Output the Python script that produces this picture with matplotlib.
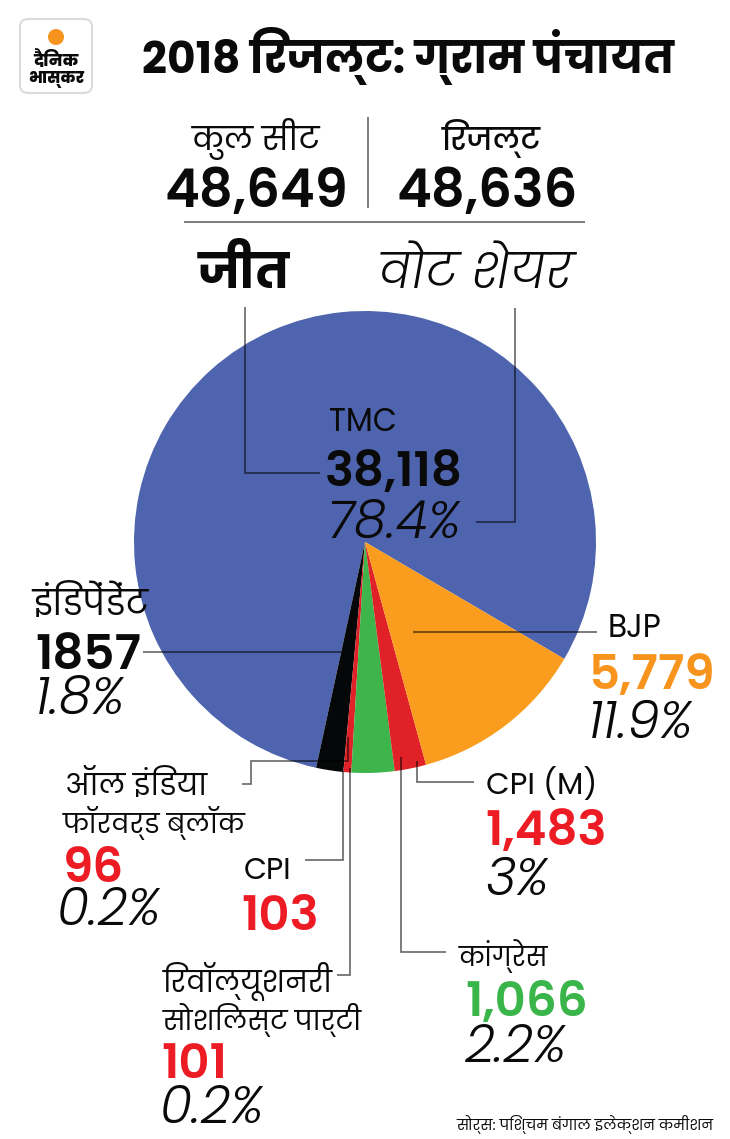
import re

import matplotlib
matplotlib.use("Agg")
import matplotlib.pyplot as plt
from matplotlib.patches import Circle, FancyBboxPatch

W, H = 730, 1139

# wedges as measured on the picture, going anticlockwise from the BJP/TMC edge
wedge_names = ["TMC", "इंडिपेंडेंट", "रिवॉल्यूशनरी", "कांग्रेस", "CPI (M)", "BJP"]
wedge_share = [80.05, 1.9, 0.55, 3.0, 2.2, 12.3]
wedge_colors = ["#4E64AE", "#060708", "#E02128", "#3DB54A", "#E02128", "#FA9C1D"]

title = "2018 रिजल्ट: ग्राम पंचायत"
total_label, total_seats = "कुल सीट", "48,649"
result_label, result_seats = "रिजल्ट", "48,636"
win_label, share_label = "जीत", "वोट शेयर"
source = "सोर्स: पश्चिम बंगाल इलेक्शन कमीशन"
logo_lines = ["दैनिक", "भास्कर"]

RED = "#ED1C24"
INK = "#0a0a0a"
LINE = "#000000"
SEATS_PT = 34.8
PCT_PT = 37.5


def visual_order(text):
    # matplotlib has no text shaping, so the i-matra has to come before its consonant cluster
    cons = "[\u0915-\u0939]"
    return re.sub(f"((?:{cons}\u094d)*{cons})\u093f", "\u093f\\1", text)


def Y(py):
    return H - py


fig = plt.figure(figsize=(W / 100, H / 100), dpi=100)
ax = fig.add_axes([0, 0, 1, 1])
ax.pie(
    wedge_share,
    colors=wedge_colors,
    startangle=-30.4,
    center=(365, Y(542)),
    radius=231,
    wedgeprops={"linewidth": 0},
)
ax.set_xlim(0, W)
ax.set_ylim(0, H)
ax.set_aspect("equal")
ax.axis("off")


def put(x, base, s, size, weight=400, color=INK, ha="left", style="normal"):
    ax.text(
        x, Y(base), visual_order(s), fontsize=size, fontweight=weight, color=color,
        ha=ha, va="baseline", fontstyle=style, family="Poppins",
    )


def seats(x, base, s, color=INK):
    put(x, base, s, SEATS_PT, 600, color)


def pct(x, base, s):
    put(x, base, s, PCT_PT, 300, style="italic")


def leader(xs, ys, lw=1.2):
    ax.plot(xs, [Y(v) for v in ys], color=LINE, alpha=0.6, lw=lw, solid_joinstyle="miter", solid_capstyle="butt")


# logo
ax.add_patch(FancyBboxPatch((20, Y(93)), 72, 74, boxstyle="round,pad=0,rounding_size=8",
                            fc="white", ec="#dcdcdc", lw=1.5))
ax.add_patch(Circle((56, Y(37)), 8, fc="#F7941D", ec="none"))
put(56, 66, logo_lines[0], 12, 800, ha="center")
put(56, 83, logo_lines[1], 11.5, 800, ha="center")

# header
put(408, 73, title, 31.5, 700, ha="center")
put(256, 150, total_label, 23.5, ha="center")
put(491, 150, result_label, 22, 500, ha="center")
put(256, 207, total_seats, 38, 600, ha="center")
put(487, 207, result_seats, 38, 600, ha="center")
leader([368, 368], [117, 208])
leader([184, 585], [222, 222])
put(244, 288, win_label, 35, 700, ha="center")
put(476, 288, share_label, 35, 300, ha="center", style="italic")

# leaders from the column heads into the TMC label
leader([245, 245, 320], [307, 473, 473])
leader([515, 515, 476], [308, 522, 522])

# party leaders
leader([413, 597], [632, 632])
leader([143, 341], [652, 652])
leader([242, 251, 251, 348, 348], [784, 784, 761, 761, 737])
leader([305, 343, 343], [860, 860, 771])
leader([337, 350, 350], [975, 975, 768])
leader([446, 401, 401], [952, 952, 757])
leader([474, 417, 417], [782, 782, 761])

# party labels
put(329, 431, "TMC", 22.5)
seats(325, 486, "38,118")
pct(326, 538, "78.4%")

put(608, 637, "BJP", 22.5)
seats(588, 689, "5,779", "#F7941D")
pct(588, 738, "11.9%")

put(32, 615, "इंडिपेंडेंट", 25)
seats(35, 669, "1857")
pct(35, 714, "1.8%")

put(65, 795, "ऑल इंडिया", 21.4)
put(63, 833, "फॉरवर्ड ब्लॉक", 19.5)
seats(63, 882, "96", RED)
pct(57, 925, "0.2%")

put(244, 879, "CPI", 21.5)
seats(241, 930, "103", RED)

put(163, 992, "रिवॉल्यूशनरी", 20.8)
put(163, 1030, "सोशलिस्ट पार्टी", 19.7)
seats(161, 1078, "101", RED)
pct(160, 1123, "0.2%")

put(486, 794, "CPI (M)", 22)
seats(485, 845, "1,483", RED)
pct(485, 895, "3%")

put(459, 966, "कांग्रेस", 19)
seats(465, 1016, "1,066", "#39B54A")
pct(465, 1062, "2.2%")

put(713, 1130, source, 10.6, ha="right")

fig.savefig("out.png", dpi=100)
